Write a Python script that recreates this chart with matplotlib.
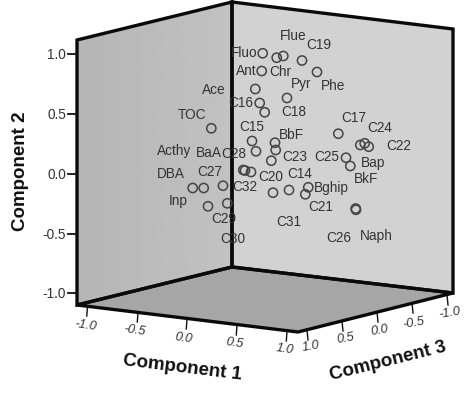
import numpy as np
import matplotlib
matplotlib.use("Agg")
import matplotlib.pyplot as plt
from matplotlib.patches import Polygon

plt.rcParams['font.family'] = ['Liberation Sans', 'DejaVu Sans']

point_x = [262.7, 276.7, 283.3, 302, 317, 261.7, 255.3, 287, 259.7, 264.7, 211.3, 252, 275,
           256, 275.7, 271.3, 243.3, 245, 251, 223, 192.7, 203.7, 273, 289, 308.3, 305.3,
           208, 227.3, 338.3, 360.3, 364.7, 368.7, 346, 350.3, 355.7, 356]
point_y = [53.3, 57.7, 56, 60.5, 72, 71, 89, 98, 103, 112.3, 128.3, 141, 142.7,
           151.3, 150, 160.7, 170, 170.5, 172, 185.7, 188, 188, 192.7, 190, 187.3, 194.3,
           206.3, 203.3, 133.7, 145, 143.3, 146.7, 157.7, 166, 208.5, 209.8]

label_text = ['Flue', 'C19', 'Fluo', 'Ant', 'Chr', 'Pyr', 'Phe', 'Ace', 'C16', 'C18', 'TOC',
              'C15', 'BbF', 'C17', 'C24', 'C22', 'Acthy', 'BaA', 'C28', 'C23', 'C25', 'Bap',
              'DBA', 'C27', 'C20', 'C14', 'BkF', 'C32', 'Bghip', 'Inp', 'C21', 'C29', 'C31',
              'C30', 'C26', 'Naph']
label_x = [293, 319, 244, 246, 280, 301, 333, 214, 241, 294, 192,
           252, 291, 354, 380, 399, 174, 209, 234, 295, 327, 373,
           171, 210, 271, 300, 366, 245, 331, 178, 321, 224, 289,
           233, 339, 376]
label_y = [36, 45, 53, 71, 72, 84, 86, 90, 103, 112, 115,
           127, 135, 118, 128, 146, 151, 153, 154, 157, 157, 163,
           174, 172, 177, 174, 179, 187, 188, 201, 207, 219, 222,
           239, 238, 236]

y_tick_labels = ['1.0', '0.5', '0.0', '-0.5', '-1.0']
y_tick_y = [54, 114, 174, 234, 293]
c1_tick_labels = ['-1.0', '-0.5', '0.0', '0.5', '1.0']
c1_tick_x = [87.5, 138, 187, 237, 287]
c1_tick_y = [306, 312, 319, 325, 331]
c1_label_x = [86, 135, 184, 235, 285]
c1_label_y = [326, 331, 338, 343, 349]
c3_tick_labels = ['1.0', '0.5', '0.0', '-0.5', '-1.0']
c3_tick_x = [307, 342, 377, 412, 447]
c3_tick_y = [330, 321, 312, 303, 295]
c3_label_x = [311, 346, 380, 414, 450]
c3_label_y = [347, 339, 331, 323, 313]

fig = plt.figure(figsize=(4.74, 3.95), dpi=100, facecolor='white')
ax = fig.add_axes([0, 0, 1, 1])
ax.set_xlim(0, 474)
ax.set_ylim(395, 0)
ax.axis('off')

# Box walls
left_wall = [(77, 40), (232, 2), (232, 267), (77, 305)]
right_wall = [(232, 2), (453, 29), (453, 293), (232, 267)]
floor = [(77, 305), (232, 267), (453, 293), (298, 332)]

grad = np.linspace(0.71, 0.76, 200).reshape(1, -1)
im = ax.imshow(grad, extent=(77, 232, 305, 2), cmap='gray', vmin=0, vmax=1, aspect='auto', zorder=1)
im.set_clip_path(Polygon(left_wall, transform=ax.transData))
ax.add_patch(Polygon(right_wall, closed=True, fc='#d2d2d2', ec='none', zorder=1))
ax.add_patch(Polygon(floor, closed=True, fc='#a6a6a6', ec='none', zorder=1))
ax.set_xlim(0, 474)
ax.set_ylim(395, 0)
for poly in (left_wall, right_wall, floor):
    ax.add_patch(Polygon(poly, closed=True, fc='none', ec='#0a0a0a', lw=2.4, joinstyle='miter', zorder=2))

# Y ticks
for t, y in zip(y_tick_labels, y_tick_y):
    ax.plot([68, 77], [y, y], color='#111111', lw=1.3, zorder=2)
    ax.text(66, y + 1, t, ha='right', va='center', fontsize=9.8, color='#333333')

# Floor ticks
for t, x, y, lx, ly in zip(c1_tick_labels, c1_tick_x, c1_tick_y, c1_label_x, c1_label_y):
    ax.plot([x, x - 0.7], [y, y + 10], color='#111111', lw=1.0, zorder=1.5)
    ax.text(lx, ly, t, ha='center', va='center', fontsize=9.2, style='italic', rotation=-8,
            color='#333333', rotation_mode='anchor')
for t, x, y, lx, ly in zip(c3_tick_labels, c3_tick_x, c3_tick_y, c3_label_x, c3_label_y):
    ax.plot([x, x + 1], [y, y + 10], color='#111111', lw=1.0, zorder=1.5)
    ax.text(lx, ly, t, ha='center', va='center', fontsize=9.2, style='italic', rotation=10,
            color='#333333', rotation_mode='anchor')

# Axis titles
ax.text(21, 171, 'Component 2', rotation=90, ha='center', va='center', fontsize=13.5,
        fontweight='bold', color='#111111')
ax.text(182, 368, 'Component 1', rotation=-7, ha='center', va='center', fontsize=13.5,
        fontweight='bold', color='#111111', rotation_mode='anchor')
ax.text(388, 361, 'Component 3', rotation=14, ha='center', va='center', fontsize=13.5,
        fontweight='bold', color='#111111', rotation_mode='anchor')

# Points and labels
ax.scatter(point_x, point_y, s=44, facecolors='none', edgecolors='#444444', linewidths=1.1, zorder=3)
for t, x, y in zip(label_text, label_x, label_y):
    ax.text(x, y, t, ha='center', va='center', fontsize=9.8, color='#333333', zorder=4)

fig.savefig('out.png', dpi=100)
